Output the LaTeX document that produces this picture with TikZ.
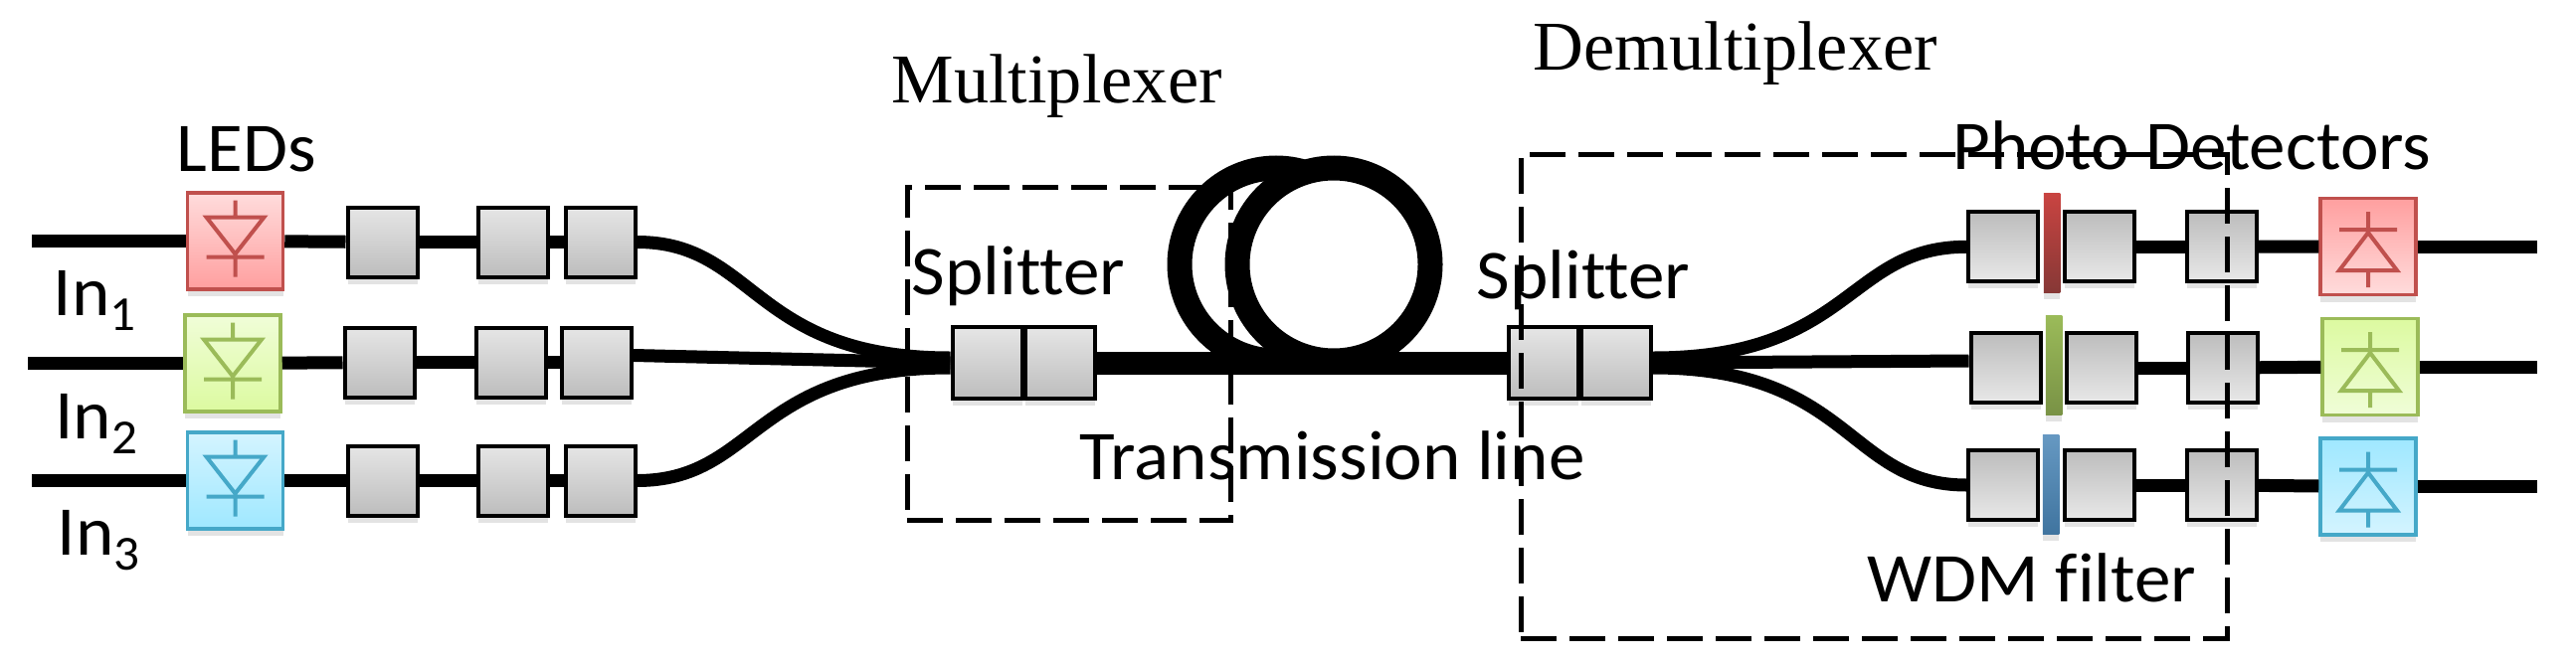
\documentclass[tikz,border=0pt]{standalone}
\usepackage{fontspec}
\setmainfont[FakeStretch=1.04,Ligatures=NoCommon]{Carlito}
\newfontfamily\timesfont{Liberation Serif}
\usetikzlibrary{arrows,shapes,shadows}
\definecolor{ledred}{HTML}{C0504D}
\definecolor{ledgreen}{HTML}{9BBB59}
\definecolor{ledblue}{HTML}{45A8C8}
\definecolor{redpale}{HTML}{FFDCDC}
\definecolor{reddeep}{HTML}{FF9F9F}
\definecolor{greenpale}{HTML}{F0FDD8}
\definecolor{greendeep}{HTML}{DCFAA0}
\definecolor{bluepale}{HTML}{D4F4FF}
\definecolor{bluedeep}{HTML}{9FE8FF}
\tikzstyle{label}=[inner sep=0pt,anchor=base west,font=\fontsize{20}{24}\selectfont]
\tikzstyle{title}=[label,font=\timesfont\fontsize{20}{24}\selectfont]
\tikzstyle{shade}=[drop shadow={shadow xshift=0cm,shadow yshift=-.07cm,opacity=.22}]
\tikzstyle{block}=[rectangle,draw=black,line width=.04cm,inner sep=0pt,minimum width=.7cm,minimum height=.7cm,shade]
\tikzstyle{blockL}=[block,top color=black!10,bottom color=black!26]
\tikzstyle{blockR}=[block,top color=black!26,bottom color=black!9]
\tikzstyle{led}=[rectangle,line width=.035cm,inner sep=0pt,minimum width=.96cm,minimum height=.97cm,shade]
\tikzstyle{diodedown}=[path picture={
\draw[#1,line width=.04cm,shift={(path picture bounding box.center)}]
(-.29,.24)--(.29,.24)--(0,-.13)--cycle (0,.41)--(0,.24) (-.29,-.16)--(.29,-.16) (0,-.13)--(0,-.36);}]
\tikzstyle{diodeup}=[path picture={
\draw[#1,line width=.04cm,shift={(path picture bounding box.center)}]
(-.29,-.24)--(.29,-.24)--(0,.14)--cycle (0,-.24)--(0,-.41) (-.29,.17)--(.29,.17) (0,.14)--(0,.35);}]
\tikzstyle{filt}=[rectangle,inner sep=0pt,minimum width=.165cm,minimum height=1cm,shade]
\tikzstyle{fibre}=[line width=.13cm,black]
\tikzstyle{trunk}=[line width=.23cm,black]
\tikzstyle{coil}=[circle,draw=black,line width=.25cm,minimum size=1.94cm,inner sep=0pt]
\tikzstyle{wdmbox}=[rectangle,draw=black,line width=.05cm,inner sep=0pt,dash pattern=on .36cm off .13cm]
\newcommand{\insub}[1]{In\raisebox{-.15cm}{\fontsize{14}{16}\selectfont #1}}
\begin{document}
\begin{tikzpicture}
\useasboundingbox (0,0) rectangle (25.9,6.66);
\coordinate (i1) at (.32,4.235);
\coordinate (i2) at (.28,3.005);
\coordinate (i3) at (.32,1.825);
\coordinate (o1) at (25.51,4.18);
\coordinate (o2) at (25.51,2.97);
\coordinate (o3) at (25.51,1.765);
\node[coil] (CA) at (12.83,4) {};
\node[coil,fill=white] (CB) at (13.41,4) {};
\node[led,draw=ledred,top color=redpale,bottom color=reddeep,diodedown=ledred] (L1) at (2.365,4.235) {};
\node[led,draw=ledgreen,top color=greenpale,bottom color=greendeep,diodedown=ledgreen] (L2) at (2.34,3.005) {};
\node[led,draw=ledblue,top color=bluepale,bottom color=bluedeep,diodedown=ledblue] (L3) at (2.365,1.825) {};
\node[blockL] (a1) at (3.845,4.225) {};
\node[blockL] (a2) at (5.16,4.225) {};
\node[blockL] (a3) at (6.035,4.225) {};
\node[blockL] (b1) at (3.815,3.015) {};
\node[blockL] (b2) at (5.14,3.015) {};
\node[blockL] (b3) at (6,3.015) {};
\node[blockL] (c1) at (3.845,1.825) {};
\node[blockL] (c2) at (5.16,1.825) {};
\node[blockL] (c3) at (6.035,1.825) {};
\node[blockL,minimum height=.72cm] (S1a) at (9.925,3.01) {};
\node[blockL,minimum height=.72cm] (S1b) at (10.66,3.01) {};
\node[blockL,minimum height=.72cm] (S2a) at (15.52,3.01) {};
\node[blockL,minimum height=.72cm] (S2b) at (16.25,3.01) {};
\node[blockR] (A1) at (20.14,4.177) {};
\node[blockR] (A2) at (21.11,4.177) {};
\node[blockR] (A3) at (22.335,4.177) {};
\node[blockR] (B1) at (20.165,2.96) {};
\node[blockR] (B2) at (21.13,2.96) {};
\node[blockR] (B3) at (22.35,2.96) {};
\node[blockR] (C1) at (20.14,1.78) {};
\node[blockR] (C2) at (21.11,1.78) {};
\node[blockR] (C3) at (22.335,1.78) {};
\node[filt,top color=ledred!85!red,bottom color=ledred!70!black] (F1) at (20.63,4.22) {};
\node[filt,top color=ledgreen,bottom color=ledgreen!78!black] (F2) at (20.65,2.99) {};
\node[filt,top color=blue!45!cyan!60!black!60!white,bottom color=blue!45!cyan!50!black!75!white] (F3) at (20.62,1.79) {};
\node[led,draw=ledred,top color=reddeep,bottom color=redpale,diodeup=ledred] (D1) at (23.81,4.18) {};
\node[led,draw=ledgreen,top color=greendeep,bottom color=greenpale,diodeup=ledgreen] (D2) at (23.83,2.97) {};
\node[led,draw=ledblue,top color=bluedeep,bottom color=bluepale,diodeup=ledblue] (D3) at (23.81,1.765) {};
\draw[fibre](i1)--(L1);\draw[fibre](L1)--(a1);\draw[fibre](a1)--(a2);\draw[fibre](a2)--(a3);
\draw[fibre](i2)--(L2);\draw[fibre](L2)--(b1);\draw[fibre](b1)--(b2);\draw[fibre](b2)--(b3);
\draw[fibre](i3)--(L3);\draw[fibre](L3)--(c1);\draw[fibre](c1)--(c2);\draw[fibre](c2)--(c3);
\draw[fibre](a3.east)to [out=0,in=180,out distance=1.2cm,in distance=2cm]([yshift=.05cm]S1a.west);
\draw[fibre]([yshift=.07cm]b3.east)--(S1a.west);
\draw[fibre](c3.east)to [out=0,in=180,out distance=1.2cm,in distance=2cm]([yshift=-.05cm]S1a.west);
\draw[trunk](S1b)--(S2a);
\draw[fibre]([yshift=.05cm]S2b.east)to [out=0,in=180,out distance=2cm,in distance=1.2cm](A1.west);
\draw[fibre](S2b.east)--([yshift=.07cm]B1.west);
\draw[fibre]([yshift=-.05cm]S2b.east)to [out=0,in=180,out distance=2cm,in distance=1.2cm](C1.west);
\draw[fibre](A2)--(A3);\draw[fibre](A3)--(D1);\draw[fibre](D1)--(o1);
\draw[fibre](B2)--(B3);\draw[fibre](B3)--(D2);\draw[fibre](D2)--(o2);
\draw[fibre](C2)--(C3);\draw[fibre](C3)--(D3);\draw[fibre](D3)--(o3);
\node[label] (LEDs) at (1.77,4.94) {LEDs};
\node[label] (In1) at (.53,3.49) {\insub{1}};
\node[label] (In2) at (.545,2.25) {\insub{2}};
\node[label] (In3) at (.57,1.08) {\insub{3}};
\node[title] (Mux) at (8.96,5.63) {Multiplexer};
\node[title] (Demux) at (15.41,5.96) {Demultiplexer};
\node[label] (Sp1) at (9.16,3.7) {Splitter};
\node[label] (Sp2) at (14.84,3.66) {Splitter};
\node[label] (TL) at (10.85,1.84) {Transmission line};
\node[label] (PD) at (19.63,4.96) {Photo Detectors};
\node[label] (WDM) at (18.77,.61) {WDM filter};
\node[wdmbox,minimum width=3.25cm,minimum height=3.35cm] (MB) at (10.745,3.105) {};
\node[wdmbox,minimum width=7.1cm,minimum height=4.87cm] (DB) at (18.84,2.675) {};
\end{tikzpicture}
\end{document}
